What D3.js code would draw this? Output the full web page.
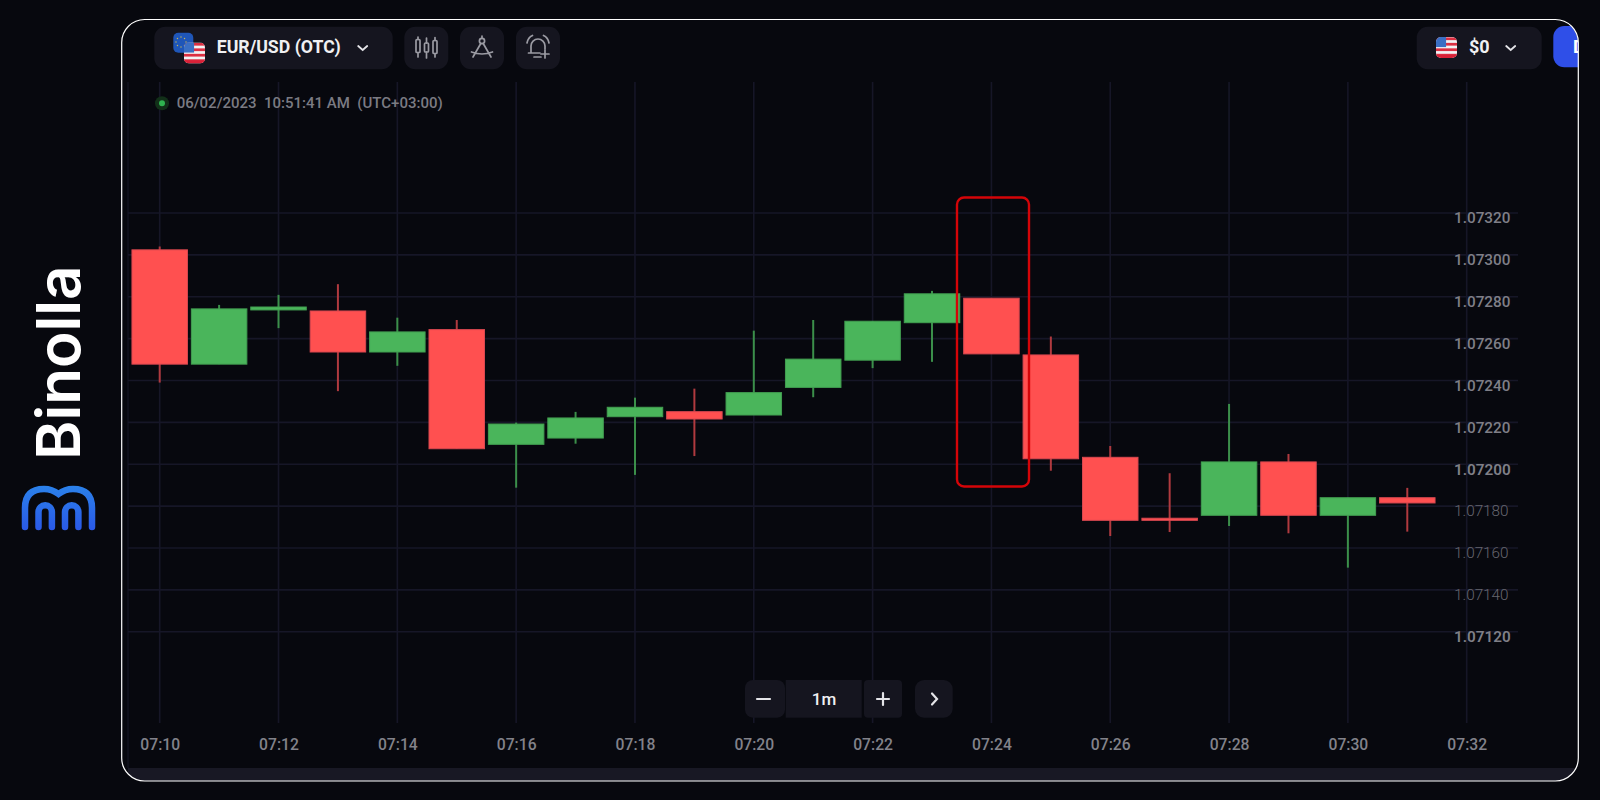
<!DOCTYPE html>
<html>
<head>
<meta charset="utf-8">
<title>EUR/USD (OTC)</title>
<script src="https://cdnjs.cloudflare.com/ajax/libs/d3/7.8.5/d3.min.js"></script>
<style>
    html, body { margin: 0; padding: 0; background: #07080e; }
    svg { display: block; font-family: Roboto, sans-serif; }
</style>
</head>
<body>
<div id="chart"></div>
<script>
const timeLabels = ["07:10", "07:12", "07:14", "07:16", "07:18", "07:20", "07:22", "07:24", "07:26", "07:28", "07:30", "07:32"];
const timeMinutes = [0, 2, 4, 6, 8, 10, 12, 14, 16, 18, 20, 22];
const priceTicks = [1.0732, 1.0730, 1.0728, 1.0726, 1.0724, 1.0722, 1.0720, 1.0718, 1.0716, 1.0714, 1.0712];

// one candle per minute from 07:10
const opens = [1.073024, 1.072478, 1.072737, 1.072732, 1.072536, 1.072643, 1.072095, 1.072125, 1.072227, 1.072251, 1.072235,
    1.072367, 1.072497, 1.072676, 1.072793, 1.072522, 1.072033, 1.071742, 1.071756, 1.072011, 1.071756, 1.071840];
const closes = [1.072478, 1.072742, 1.072751, 1.072536, 1.072632, 1.072074, 1.072192, 1.072221, 1.072272, 1.072216, 1.072342,
    1.072502, 1.072683, 1.072814, 1.072527, 1.072026, 1.071732, 1.071732, 1.072011, 1.071756, 1.071840, 1.071815];
const highs = [1.073040, 1.072761, 1.072809, 1.072860, 1.072700, 1.072689, 1.072199, 1.072250, 1.072318, 1.072361, 1.072638,
    1.072689, 1.072683, 1.072828, 1.072793, 1.072610, 1.072087, 1.071957, 1.072288, 1.072049, 1.071840, 1.071887];
const lows = [1.072390, 1.072478, 1.072650, 1.072349, 1.072470, 1.072074, 1.071888, 1.072098, 1.071949, 1.072039, 1.072235,
    1.072320, 1.072459, 1.072489, 1.072527, 1.071969, 1.071657, 1.071676, 1.071705, 1.071670, 1.071506, 1.071678];

const boldTicks = [1.0720, 1.0712];
const faintTicks = [1.0718, 1.0716, 1.0714];

const width = 1600, height = 800;
const bg = "#07080e", pill = "#15151f", grid = "#161627";

const svg = d3.select("#chart").append("svg")
    .attr("width", width)
    .attr("height", height);

const x = d3.scaleLinear().domain([0, 22]).range([159.7, 1466.7]);
const y = d3.scaleLinear().domain([1.0712, 1.0732]).range([631.7, 213]);

const defs = svg.append("defs");
const logoGrad = defs.append("linearGradient").attr("id", "logoGrad")
    .attr("gradientUnits", "userSpaceOnUse")
    .attr("x1", 0).attr("x2", 0).attr("y1", 485).attr("y2", 531);
logoGrad.append("stop").attr("offset", 0).attr("stop-color", "#2b82ea");
logoGrad.append("stop").attr("offset", 1).attr("stop-color", "#2a58e8");
defs.append("clipPath").attr("id", "card").append("rect")
    .attr("x", 122).attr("y", 20).attr("width", 1456).attr("height", 761).attr("rx", 23);

svg.append("rect").attr("width", width).attr("height", height).attr("fill", bg);

// brand on the left
svg.append("text")
    .attr("transform", "translate(80,460) rotate(-90)")
    .attr("font-family", "Inter")
    .attr("font-weight", 600)
    .attr("font-size", 60)
    .attr("fill", "#ffffff")
    .text("Binolla");

const logo = svg.append("g").attr("fill", "none")
    .attr("stroke", "url(#logoGrad)").attr("stroke-width", 6.5).attr("stroke-linecap", "round");
logo.append("path").attr("d", "M25,527 V508 Q25,489 44,489 Q52,489 58.5,494 Q65,489 73,489 Q92,489 92,508 V527");
logo.append("path").attr("d", "M38.5,527 V512 a6.7,6.7 0 0 1 13.4,0 V527");
logo.append("path").attr("d", "M65,527 V512 a6.7,6.7 0 0 1 13.4,0 V527");

const card = svg.append("g").attr("clip-path", "url(#card)");

// strip under the time axis
card.append("rect").attr("x", 128).attr("y", 768).attr("width", 1460).attr("height", 16).attr("fill", "#181824");
card.append("line").attr("x1", 128).attr("x2", 128).attr("y1", 82).attr("y2", 768).attr("stroke", grid).attr("stroke-width", 1);

// grid
card.append("g").selectAll("line")
    .data(priceTicks)
    .enter().append("line")
    .attr("x1", 128).attr("x2", 1518)
    .attr("y1", d => y(d)).attr("y2", d => y(d))
    .attr("stroke", grid).attr("stroke-width", 1.6);

card.append("g").selectAll("line")
    .data(timeMinutes)
    .enter().append("line")
    .attr("x1", d => x(d)).attr("x2", d => x(d))
    .attr("y1", 82).attr("y2", 723)
    .attr("stroke", grid).attr("stroke-width", 1.6);

// axes
const xAxis = d3.axisBottom(x)
    .tickValues(timeMinutes)
    .tickSize(0)
    .tickFormat((d, i) => timeLabels[i]);
const xG = card.append("g").attr("transform", "translate(0,735.5)").call(xAxis);
xG.select(".domain").remove();
xG.selectAll("text")
    .attr("font-family", "Roboto")
    .attr("font-size", 15.7)
    .attr("font-weight", 500)
    .attr("fill", "#82828a");

const yAxis = d3.axisRight(y)
    .tickValues(priceTicks)
    .tickSize(0)
    .tickFormat(d3.format(".5f"));
const yG = card.append("g").attr("transform", "translate(1454,5)").call(yAxis);
yG.select(".domain").remove();
yG.selectAll("text")
    .attr("x", 0)
    .attr("font-family", "Roboto")
    .attr("font-size", 15.3)
    .attr("font-weight", d => boldTicks.includes(d) ? 600 : faintTicks.includes(d) ? 300 : 500)
    .attr("fill", d => faintTicks.includes(d) ? "#66666e" : "#7f7f87");

// candles
const candles = opens.map((o, i) => ({ i, open: o, close: closes[i], high: highs[i], low: lows[i] }));
const bodyWidth = 55.5;
const isUp = d => d.close >= d.open;

const candleG = card.append("g").selectAll("g")
    .data(candles)
    .enter().append("g");

candleG.append("line")
    .attr("x1", d => x(d.i)).attr("x2", d => x(d.i))
    .attr("y1", d => y(d.high)).attr("y2", d => y(d.low))
    .attr("stroke", d => isUp(d) ? "#3b8f4a" : "#b03a3f")
    .attr("stroke-width", 2);

candleG.append("rect")
    .attr("x", d => x(d.i) - bodyWidth / 2)
    .attr("y", d => y(Math.max(d.open, d.close)))
    .attr("width", bodyWidth)
    .attr("height", d => Math.abs(y(d.open) - y(d.close)))
    .attr("fill", d => isUp(d) ? "#4ab55b" : "#ff5050")
    .attr("stroke", d => isUp(d) ? "#429f51" : "#d94850")
    .attr("stroke-width", 1);

// highlight box around the 07:24 candle
svg.append("rect")
    .attr("x", 957).attr("y", 197.5)
    .attr("width", 72).attr("height", 289)
    .attr("rx", 7)
    .attr("fill", "none")
    .attr("stroke", "#d40408")
    .attr("stroke-width", 2.4);

// toolbar
function addPill(parent, px, py, w, h, r, fill) {
    return parent.append("rect")
        .attr("x", px).attr("y", py).attr("width", w).attr("height", h)
        .attr("rx", r).attr("fill", fill || pill);
}

function addChevron(parent, cx, cy) {
    parent.append("path")
        .attr("d", `M${cx - 4.5},${cy - 2} L${cx},${cy + 2} L${cx + 4.5},${cy - 2}`)
        .attr("fill", "none").attr("stroke", "#e4e4e8")
        .attr("stroke-width", 1.8).attr("stroke-linecap", "round");
}

function addUsFlag(parent, id, fx, fy, size) {
    defs.append("clipPath").attr("id", id).append("rect")
        .attr("x", fx).attr("y", fy).attr("width", size).attr("height", size).attr("rx", 5);
    const f = parent.append("g").attr("clip-path", `url(#${id})`);
    f.append("rect").attr("x", fx).attr("y", fy).attr("width", size).attr("height", size).attr("fill", "#f2f2f4");
    d3.range(4).forEach(k => {
        f.append("rect").attr("x", fx).attr("y", fy + size * (0.02 + k * 0.26))
            .attr("width", size).attr("height", size * 0.13)
            .attr("fill", "#dc2f42");
    });
    f.append("rect").attr("x", fx).attr("y", fy + size * 0.85).attr("width", size).attr("height", size * 0.15).attr("fill", "#d92138");
    f.append("rect").attr("x", fx).attr("y", fy).attr("width", size * 0.48).attr("height", size * 0.48).attr("fill", "#3a6fc4");
}

const bar = svg.append("g");

addPill(bar, 154.3, 26.7, 238.4, 42.6, 11);
bar.append("rect").attr("x", 173.3).attr("y", 32.7).attr("width", 20).attr("height", 20).attr("rx", 5).attr("fill", "#1f56b8");
bar.append("g").selectAll("circle")
    .data(d3.range(8))
    .enter().append("circle")
    .attr("cx", d => 181 + 5 * Math.cos(d * Math.PI / 4))
    .attr("cy", d => 42 + 5 * Math.sin(d * Math.PI / 4))
    .attr("r", 0.7).attr("fill", "#c9b755");
addUsFlag(bar, "usA", 184, 42.5, 21);
bar.append("text").attr("x", 216.7).attr("y", 53)
    .attr("font-size", 17.7).attr("font-weight", 700).attr("fill", "#f0f0f2")
    .text("EUR/USD (OTC)");
addChevron(bar, 362.7, 48);

addPill(bar, 404.3, 26.7, 44, 42.6, 11);
addPill(bar, 460, 26.7, 44, 42.6, 11);
addPill(bar, 516, 26.7, 44, 42.6, 11);

const icon = bar.append("g").attr("fill", "none").attr("stroke", "#9b9ba3")
    .attr("stroke-width", 1.7).attr("stroke-linecap", "round").attr("stroke-linejoin", "round");
// candles icon
icon.append("rect").attr("x", 416).attr("y", 39.5).attr("width", 4).attr("height", 13).attr("rx", 1);
icon.append("path").attr("d", "M418,37 V39.5 M418,52.5 V57");
icon.append("rect").attr("x", 424.5).attr("y", 43).attr("width", 4).attr("height", 9).attr("rx", 1);
icon.append("path").attr("d", "M426.5,38 V43 M426.5,52 V58");
icon.append("rect").attr("x", 433).attr("y", 40.5).attr("width", 4).attr("height", 13).attr("rx", 1);
icon.append("path").attr("d", "M435,37.5 V40.5 M435,53.5 V57");
// compass icon
icon.append("circle").attr("cx", 482).attr("cy", 41).attr("r", 2.6);
icon.append("path").attr("d", "M480.8,43.5 L473,57 M483.2,43.5 L491,57 M471.5,52 Q482,56 492.5,52 M482,36 V38");
// bell icon
icon.append("path").attr("d", "M531,53 V46 a7,7 0 0 1 14,0 V49 M528.5,53 H540");
icon.append("path").attr("d", "M527,43 Q528,37.5 532.5,35.5 M549,43 Q548,37.5 543.5,35.5");
icon.append("path").attr("d", "M534,57 H541 M545,50 V58 M541,54 H549");

addPill(bar, 1416.7, 26.7, 125, 42.6, 11);
addUsFlag(bar, "usB", 1436, 37, 21);
bar.append("text").attr("x", 1469).attr("y", 53)
    .attr("font-size", 18).attr("font-weight", 700).attr("fill", "#f0f0f2")
    .text("$0");
addChevron(bar, 1510.7, 48);

// deposit button cut off by the card edge
const blue = svg.append("g").attr("clip-path", "url(#card)");
addPill(blue, 1553.3, 26, 50, 41.3, 11, "#2f4fe8");
blue.append("text").attr("x", 1573).attr("y", 53)
    .attr("font-size", 18).attr("font-weight", 700).attr("fill", "#ffffff")
    .text("D");

// status line
svg.append("circle").attr("cx", 162).attr("cy", 103.3).attr("r", 7).attr("fill", "#123019");
svg.append("circle").attr("cx", 162).attr("cy", 103.3).attr("r", 3).attr("fill", "#2fb350");
svg.append("text").attr("x", 176.7).attr("y", 107.5)
    .attr("font-size", 15).attr("font-weight", 500).attr("fill", "#7b7b83")
    .attr("xml:space", "preserve")
    .text("06/02/2023  10:51:41 AM  (UTC+03:00)");

// zoom controls
const zoomBar = svg.append("g");
addPill(zoomBar, 745, 680, 40, 37.7, 8);
addPill(zoomBar, 785.7, 680, 76, 37.7, 0);
addPill(zoomBar, 864, 680, 38, 37.7, 4);
addPill(zoomBar, 915, 680, 37.7, 37.7, 9);
zoomBar.append("text").attr("x", 824).attr("y", 704.5)
    .attr("text-anchor", "middle").attr("font-size", 17).attr("font-weight", 500).attr("fill", "#f0f0f2")
    .text("1m");
const zoomIcon = zoomBar.append("g").attr("fill", "none").attr("stroke", "#e4e4e8")
    .attr("stroke-width", 2.2).attr("stroke-linecap", "round");
zoomIcon.append("path").attr("d", "M757,699 H770");
zoomIcon.append("path").attr("d", "M877,699 H889 M883,693 V705");
zoomIcon.append("path").attr("d", "M932,693.5 L937,699 L932,704.5");

// card outline goes last so the strip and button sit inside it
svg.append("rect")
    .attr("x", 121.7).attr("y", 19.5)
    .attr("width", 1456.6).attr("height", 761.5)
    .attr("rx", 23)
    .attr("fill", "none")
    .attr("stroke", "#ffffff")
    .attr("stroke-width", 1.2);
</script>
</body>
</html>
